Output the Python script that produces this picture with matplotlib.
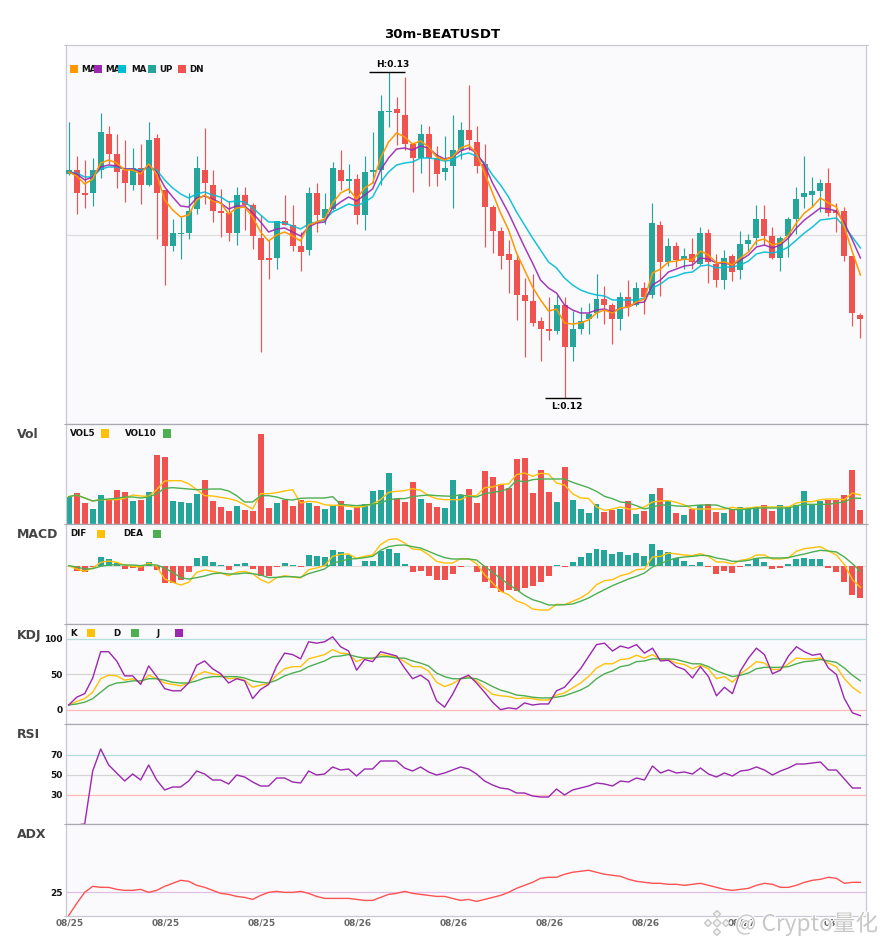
import numpy as np
import matplotlib
matplotlib.use("Agg")
import matplotlib.pyplot as plt
import matplotlib.patheffects as pe
from matplotlib.patches import Rectangle, Polygon
from matplotlib.transforms import ScaledTranslation

# prices in 1e-5 USDT
open_p = [12561,12565,12542,12542,12565,12601,12581,12565,12550,12567,12550,12597,12545,12489,12501,12502,12526,12565,12550,12524,
          12522,12502,12540,12530,12497,12477,12477,12514,12510,12489,12485,12542,12517,12526,12565,12554,12556,12520,12563,12565,
          12623,12626,12620,12591,12577,12601,12577,12563,12569,12585,12605,12593,12571,12528,12504,12481,12475,12440,12434,12414,
          12406,12404,12430,12388,12406,12416,12422,12436,12430,12416,12438,12430,12447,12440,12510,12473,12489,12475,12481,12471,
          12502,12471,12455,12479,12465,12491,12497,12516,12499,12477,12499,12516,12538,12540,12544,12552,12524,12524,12479,12420]
close_p = [12565,12542,12540,12565,12603,12581,12563,12552,12567,12550,12595,12542,12489,12502,12502,12524,12567,12552,12524,12522,
           12502,12540,12530,12499,12475,12475,12514,12510,12489,12483,12542,12520,12526,12567,12554,12556,12520,12563,12565,12624,
           12624,12622,12591,12577,12601,12577,12561,12567,12585,12605,12595,12569,12528,12504,12479,12475,12440,12434,12412,12406,
           12404,12430,12388,12406,12414,12421,12436,12430,12416,12438,12428,12447,12438,12512,12473,12489,12475,12479,12473,12502,
           12473,12455,12477,12463,12491,12495,12516,12499,12477,12497,12516,12536,12542,12544,12552,12522,12522,12479,12422,12416]
high_p = [12613,12579,12575,12577,12622,12609,12601,12595,12587,12591,12613,12601,12545,12516,12518,12542,12579,12607,12565,12546,
          12534,12548,12548,12532,12520,12495,12514,12540,12530,12503,12548,12552,12542,12573,12585,12571,12561,12579,12603,12640,
          12663,12638,12658,12592,12611,12609,12589,12599,12620,12613,12650,12609,12591,12530,12508,12495,12481,12457,12461,12418,
          12438,12440,12438,12424,12428,12432,12461,12449,12432,12443,12455,12453,12453,12532,12514,12497,12493,12487,12497,12508,
          12506,12481,12485,12481,12504,12501,12530,12530,12508,12499,12518,12548,12579,12558,12556,12567,12532,12528,12479,12422]
low_p = [12560,12521,12527,12529,12557,12571,12547,12533,12545,12531,12549,12496,12450,12484,12476,12496,12521,12531,12513,12498,
         12494,12490,12505,12486,12383,12456,12466,12510,12484,12464,12480,12503,12511,12525,12545,12542,12511,12505,12552,12550,
         12608,12590,12585,12543,12562,12549,12549,12555,12527,12576,12585,12562,12488,12482,12466,12442,12415,12378,12409,12374,
         12395,12401,12337,12374,12401,12401,12417,12411,12391,12405,12419,12429,12421,12437,12439,12469,12468,12466,12466,12470,
         12452,12448,12446,12454,12456,12484,12490,12490,12476,12464,12478,12501,12527,12529,12523,12519,12503,12474,12409,12397]

ma1 = [12563,12559,12551,12556,12572,12575,12572,12565,12565,12561,12571,12561,12535,12525,12518,12520,12535,12540,12534,12532,
       12521,12527,12528,12518,12503,12494,12500,12503,12499,12494,12510,12513,12516,12532,12542,12546,12536,12547,12552,12577,
       12593,12602,12598,12591,12594,12588,12578,12575,12578,12587,12590,12582,12562,12542,12522,12505,12482,12465,12448,12435,
       12424,12426,12412,12411,12412,12415,12422,12425,12422,12427,12428,12433,12436,12462,12466,12473,12474,12476,12475,12484,
       12480,12472,12473,12470,12477,12483,12494,12496,12490,12492,12500,12512,12522,12528,12537,12532,12528,12508,12483,12460]
ma2 = [12563,12561,12555,12558,12568,12570,12569,12566,12566,12563,12569,12563,12548,12538,12529,12528,12537,12539,12536,12532,
       12526,12529,12529,12522,12513,12503,12506,12507,12503,12499,12508,12512,12513,12527,12533,12538,12534,12540,12546,12565,
       12577,12586,12587,12585,12589,12587,12580,12576,12578,12584,12587,12582,12570,12552,12537,12522,12505,12488,12472,12455,
       12447,12442,12430,12425,12422,12422,12425,12426,12423,12427,12428,12432,12433,12450,12455,12463,12466,12469,12470,12477,
       12476,12472,12472,12470,12475,12480,12488,12490,12487,12490,12497,12507,12515,12521,12527,12526,12524,12512,12495,12477]
ma3 = [12563,12562,12558,12558,12566,12568,12568,12566,12566,12565,12568,12565,12555,12547,12541,12537,12541,12543,12540,12538,
       12533,12534,12533,12527,12520,12513,12513,12512,12509,12506,12511,12513,12515,12523,12527,12531,12529,12533,12538,12553,
       12563,12570,12572,12573,12577,12577,12576,12574,12575,12580,12582,12579,12572,12560,12550,12538,12523,12510,12497,12485,
       12473,12467,12457,12450,12445,12442,12440,12439,12435,12435,12435,12435,12437,12447,12451,12457,12459,12462,12463,12469,
       12470,12467,12468,12468,12470,12474,12481,12483,12482,12484,12488,12495,12502,12508,12515,12516,12517,12508,12498,12487]

vol = [82,94,64,46,88,73,103,97,70,73,97,208,202,70,67,64,91,133,70,52,40,55,43,40,271,49,64,73,55,73,64,55,46,55,70,43,52,61,100,103,
       154,76,67,127,76,64,52,49,133,88,106,64,160,142,121,109,196,199,94,163,97,67,172,73,46,34,61,37,43,46,70,31,40,91,109,70,34,28,46,58,
       61,37,34,46,52,49,52,58,40,58,52,58,100,61,70,73,73,88,163,43]
vol5 = [82,87,78,69,73,73,73,77,87,84,83,103,129,130,130,121,103,85,84,80,76,70,58,45,91,91,94,99,103,63,68,66,58,56,56,53,50,53,60,73,
        95,98,100,106,101,85,76,73,73,73,85,85,109,111,119,120,148,153,143,152,150,123,117,91,78,77,51,41,45,51,45,45,51,66,69,70,65,57,45,45,
        45,45,45,50,46,48,51,51,51,51,51,63,67,67,73,75,75,73,93,87]
vol10 = [82,87,78,69,73,75,77,81,81,78,81,91,107,109,107,105,103,104,105,105,99,85,66,66,85,85,81,74,72,77,78,78,78,82,59,57,55,57,59,63,
         73,76,76,82,85,87,85,84,83,88,83,81,91,95,98,106,131,126,133,135,135,135,135,125,117,109,98,83,76,66,63,55,45,51,57,57,54,53,55,57,
         57,57,49,43,43,45,48,48,48,48,48,55,59,59,59,59,63,66,78,77]

macd_hist = [0,-15,-18,-3,27,21,9,-9,-6,-15,12,-12,-51,-51,-42,-18,24,30,12,3,-12,6,9,-9,-30,-30,-3,9,3,-3,33,30,27,48,42,33,0,15,15,45,
             51,39,6,-18,-15,-30,-42,-42,-24,-3,0,-18,-48,-66,-78,-72,-75,-66,-60,-48,-30,3,-3,12,27,39,51,48,36,42,33,39,30,66,48,42,24,15,3,12,
             -3,-24,-15,-21,-3,6,24,12,-9,-6,6,21,24,21,21,-6,-18,-48,-87,-96]
dif = [0,-10,-17,-7,10,14,10,2,-2,-4,8,-2,-40,-50,-58,-50,-20,-13,-17,-22,-30,-20,-17,-24,-42,-52,-36,-30,-34,-37,-12,-7,0,28,34,35,22,28,32,63,
       78,81,68,50,48,33,13,8,8,21,21,6,-27,-52,-77,-87,-106,-114,-130,-133,-133,-116,-117,-107,-97,-82,-57,-45,-42,-30,-24,-12,-10,26,28,38,35,32,30,36,
       28,11,11,5,16,20,32,32,20,20,24,43,51,54,57,44,32,3,-42,-65]
dea = [0,-4,-10,-9,-2,2,3,2,2,0,3,2,-7,-20,-36,-40,-36,-31,-24,-22,-25,-25,-22,-24,-28,-36,-35,-33,-33,-35,-24,-17,-10,8,13,20,21,24,28,46,
       57,61,62,57,53,43,33,24,20,20,20,17,-2,-20,-38,-56,-72,-89,-102,-109,-118,-118,-117,-115,-107,-97,-84,-72,-60,-50,-40,-32,-22,-4,6,16,23,26,28,31,
       30,23,19,13,13,16,22,24,23,23,24,30,35,41,46,44,41,26,6,-17]

k_line = [7,12,16,25,44,49,48,42,44,38,49,44,38,36,34,38,49,54,51,49,44,45,42,32,35,37,49,58,61,61,72,75,78,85,80,79,68,73,72,78,
          76,75,68,61,61,55,39,33,37,44,47,41,31,22,20,19,16,17,16,14,14,21,24,31,38,47,59,65,65,71,72,77,73,78,71,71,66,64,58,63,
          58,44,47,39,51,59,68,66,57,57,65,73,72,72,73,66,61,44,32,24]
d_line = [7,8.5,11,16,25,34,38,39,41,41,44,44,42,39,38,38,41,45,47,47,47,47,45,41,39,38,42,48,52,55,61,65,69,75,76,78,75,73,73,75,
          75,73,73,69,66,62,52,47,44,44,45,44,39,33,28,25,21,20,18,17,17,18,20,24,28,34,44,51,55,61,63,68,69,72,72,72,71,68,65,65,
          61,55,51,47,49,52,58,60,60,60,61,65,68,69,71,69,67,59,49,41]
j_line = [7,18,23,45,82,82,69,48,48,36,62,47,30,27,27,38,63,69,58,51,38,44,41,16,29,36,62,80,78,72,96,94,96,103,89,83,56,71,68,82,
          79,76,59,44,49,41,13,4,22,44,49,38,25,11,0.5,3,1.5,10,7,8.5,8.5,27,32,45,58,75,92,94,83,90,87,92,80,87,69,70,61,57,45,61,
          47,20,32,23,55,73,87,78,51,56,76,89,82,77,79,59,50,16,-4,-8]

rsi = [0,0,1,54,76,60,52,44,51,45,60,45,35,38,38,44,54,51,45,45,41,50,48,43,39,39,47,47,43,42,54,50,51,58,55,56,49,56,56,64,
       64,64,57,54,58,53,50,52,55,58,56,51,44,40,37,36,32,32,29,28,28,36,30,35,37,39,42,41,39,44,43,47,45,59,52,55,52,53,51,57,
       51,48,52,49,54,55,58,55,50,54,57,61,61,62,63,55,55,46,37,37]
adx = [2,14,25,31,30,30,28,27,27,28,25,27,31,34,37,36,32,30,27,24,23,21,20,18,22,25,26,25,25,26,24,21,19,19,19,19,18,17,17,20,
       23,24,26,24,23,22,21,21,19,17,18,16,18,20,22,25,29,32,35,39,40,40,43,45,46,47,45,43,42,41,38,36,35,34,34,33,33,32,33,34,
       32,30,28,27,28,29,32,34,33,30,30,32,35,37,38,40,39,34,35,35]

date_labels = ["08/25","08/25","08/25","08/26","08/26","08/26","08/26","08/27","08/27"]

UP = "#26a69a"
DN = "#ef5350"
ORANGE = "#ff9800"
PURPLE = "#9c27b0"
CYAN = "#00bcd4"
YELLOW = "#ffc107"
GREEN = "#4caf50"
BG = "#fafafc"
W, H = 885, 950

fig = plt.figure(figsize=(W / 100, H / 100), dpi=100)


def panel(top, bottom):
    left, right = 65.5, 866
    ax = fig.add_axes([left / W, 1 - bottom / H, (right - left) / W, (bottom - top) / H])
    ax.set_facecolor(BG)
    ax.set_xlim(-0.4, 99.7)
    for s in ax.spines.values():
        s.set_color("#c9c9d6")
        s.set_linewidth(0.9)
    ax.set_xticks([])
    ax.set_yticks([])
    ax.tick_params(axis="y", length=0, pad=2, labelsize=6.5)
    return ax


def ylabels(ax, ticks):
    ax.set_yticks(ticks)
    for t in ax.get_yticklabels():
        t.set_fontweight("bold")
        t.set_color("#111111")


def legend(items, y):
    # items: (text, text x px, colour, square x px)
    for label, tx, col, sx in items:
        fig.text(tx / W, 1 - y / H, label, fontsize=6.3, fontweight="bold", color="#111111", va="center", zorder=5)
        fig.add_artist(Rectangle((sx / W, 1 - (y + 4) / H), 8 / W, 8 / H, transform=fig.transFigure,
                                 facecolor=col, edgecolor="none", zorder=6))


x = np.arange(100)
is_up = np.array(close_p) >= np.array(open_p)
colors = [UP if u else DN for u in is_up]

# main candles
ax0 = panel(45, 424)
ax0.set_ylim(12311, 12690)
ax0.axhline(12500, color="#dddddd", lw=0.9, zorder=1)
wicks = ax0.vlines(x, low_p, high_p, colors=colors, lw=0.85, zorder=2)
wicks.set_snap(True)
body_low = np.minimum(open_p, close_p)
body_h = np.abs(np.array(close_p) - np.array(open_p))
ax0.bar(x, np.maximum(body_h, 1), bottom=body_low, width=0.75, color=colors, zorder=3)
ax0.plot(x, ma3, color=CYAN, lw=1.1, alpha=0.9, zorder=4)
ax0.plot(x, ma2, color=PURPLE, lw=1.1, alpha=0.9, zorder=4)
ax0.plot(x, ma1, color=ORANGE, lw=1.1, zorder=4)

hi = int(np.argmax(high_p))
lo = int(np.argmin(low_p))
ax0.hlines(high_p[hi], hi - 2.5, hi + 2, color="black", lw=1, zorder=5)
ax0.hlines(low_p[lo], lo - 2.5, lo + 2, color="black", lw=1, zorder=5)
ax0.annotate("H:{:.2f}".format(high_p[hi] / 1e5), (hi, high_p[hi]), xytext=(3, 2), textcoords="offset points",
             ha="center", va="bottom", fontsize=6.5, fontweight="bold")
ax0.annotate("L:{:.2f}".format(low_p[lo] / 1e5), (lo, low_p[lo]), xytext=(2, -3), textcoords="offset points",
             ha="center", va="top", fontsize=6.5, fontweight="bold")

legend([("MA", 81, ORANGE, 70), ("MA", 105, PURPLE, 94), ("MA", 131, CYAN, 118),
        ("UP", 159, UP, 148), ("DN", 189, DN, 178)], 69)

# volume
ax1 = panel(424, 524)
ax1.set_ylim(0, 300)
ax1.bar(x, vol, width=0.75, color=colors, zorder=2)
ax1.plot(x, vol5, color=YELLOW, lw=1, zorder=3)
ax1.plot(x, vol10, color=GREEN, lw=1, zorder=3)
legend([("VOL5", 70, YELLOW, 101), ("VOL10", 125, GREEN, 163)], 433.5)

# macd
ax2 = panel(524, 624)
ax2.set_ylim(-175, 125)
ax2.axhline(0, color="#dddddd", lw=0.9, zorder=1)
hist_colors = [UP if v >= 0 else DN for v in macd_hist]
ax2.bar(x, macd_hist, width=0.75, color=hist_colors, zorder=2)
ax2.plot(x, dif, color=YELLOW, lw=1, zorder=3)
ax2.plot(x, dea, color=GREEN, lw=1, zorder=3)
legend([("DIF", 70, YELLOW, 97), ("DEA", 123, GREEN, 153)], 533.5)

# kdj
ax3 = panel(624, 724)
ax3.set_ylim(-19.7, 121)
ax3.axhline(100, color="#b2dfdb", lw=0.9, zorder=1)
ax3.axhline(50, color="#d4d4d4", lw=0.9, zorder=1)
ax3.axhline(0, color="#ffb9b9", lw=0.9, zorder=1)
ax3.plot(x, k_line, color=YELLOW, lw=1, zorder=3)
ax3.plot(x, d_line, color=GREEN, lw=1, zorder=3)
ax3.plot(x, j_line, color=PURPLE, lw=1, zorder=4)
ylabels(ax3, [0, 50, 100])
legend([("K", 70, YELLOW, 87), ("D", 113, GREEN, 131), ("J", 157, PURPLE, 175)], 633)

# rsi
ax4 = panel(724, 824)
ax4.set_ylim(1, 101)
ax4.axhline(70, color="#b2dfdb", lw=0.9, zorder=1)
ax4.axhline(50, color="#d4d4d4", lw=0.9, zorder=1)
ax4.axhline(30, color="#ffb9b9", lw=0.9, zorder=1)
ax4.plot(x, rsi, color=PURPLE, lw=1, zorder=3)
ylabels(ax4, [30, 50, 70])

# adx
ax5 = panel(824, 915.5)
ax5.set_ylim(2, 93)
ax5.axhline(25, color="#e1bee7", lw=0.9, zorder=1)
ax5.plot(x, adx, color="#ff5252", lw=1, zorder=3)
ylabels(ax5, [25])
ax5.set_xticks(x[::12], date_labels)
ax5.tick_params(axis="x", length=0, pad=2, labelsize=6.5, labelcolor="#666666")
shift = ScaledTranslation(1.3 / 100, 0, fig.dpi_scale_trans)
for t in ax5.get_xticklabels():
    t.set_fontweight("bold")
    t.set_transform(t.get_transform() + shift)

for ax in [ax1, ax2, ax3, ax4, ax5]:
    ax.spines["top"].set_color("#a9a9b2")

# little marks where the panels meet
for ax in [ax0, ax1, ax2, ax3, ax4, ax5]:
    ax.set_yticks(ax.get_ylim(), minor=True)
    ax.tick_params(axis="y", which="minor", length=1.5, width=0.6, color="#a9a9b2", left=True, right=True)

for name, y in [("Vol", 434.5), ("MACD", 535), ("KDJ", 635), ("RSI", 735), ("ADX", 835)]:
    fig.text(17 / W, 1 - y / H, name, fontsize=9, fontweight="bold", color="#444444", va="center")

fig.text(0.5, 1 - 34.5 / H, "30m-BEATUSDT", fontsize=9.5, fontweight="bold", color="black", ha="center", va="center")

# watermark
wm = "#c8c8c8"
for cx, cy, r in [(717, 923, 4), (708, 923, 3.5), (726, 923, 3.5), (717, 914, 3.5), (717, 932, 3.5)]:
    pts = [((cx - r) / W, 1 - cy / H), (cx / W, 1 - (cy - r) / H), ((cx + r) / W, 1 - cy / H), (cx / W, 1 - (cy + r) / H)]
    fig.add_artist(Polygon(pts, closed=True, transform=fig.transFigure, facecolor="#f4f4f4", edgecolor=wm, lw=1, zorder=9))
fig.text(735 / W, 1 - 924 / H, "@ Crypto量化", fontsize=16.3, color=wm, va="center", zorder=10,
         family=["Noto Sans CJK SC", "DejaVu Sans"],
         path_effects=[pe.withStroke(linewidth=1.5, foreground="white")])

fig.savefig("out.png", dpi=100)
